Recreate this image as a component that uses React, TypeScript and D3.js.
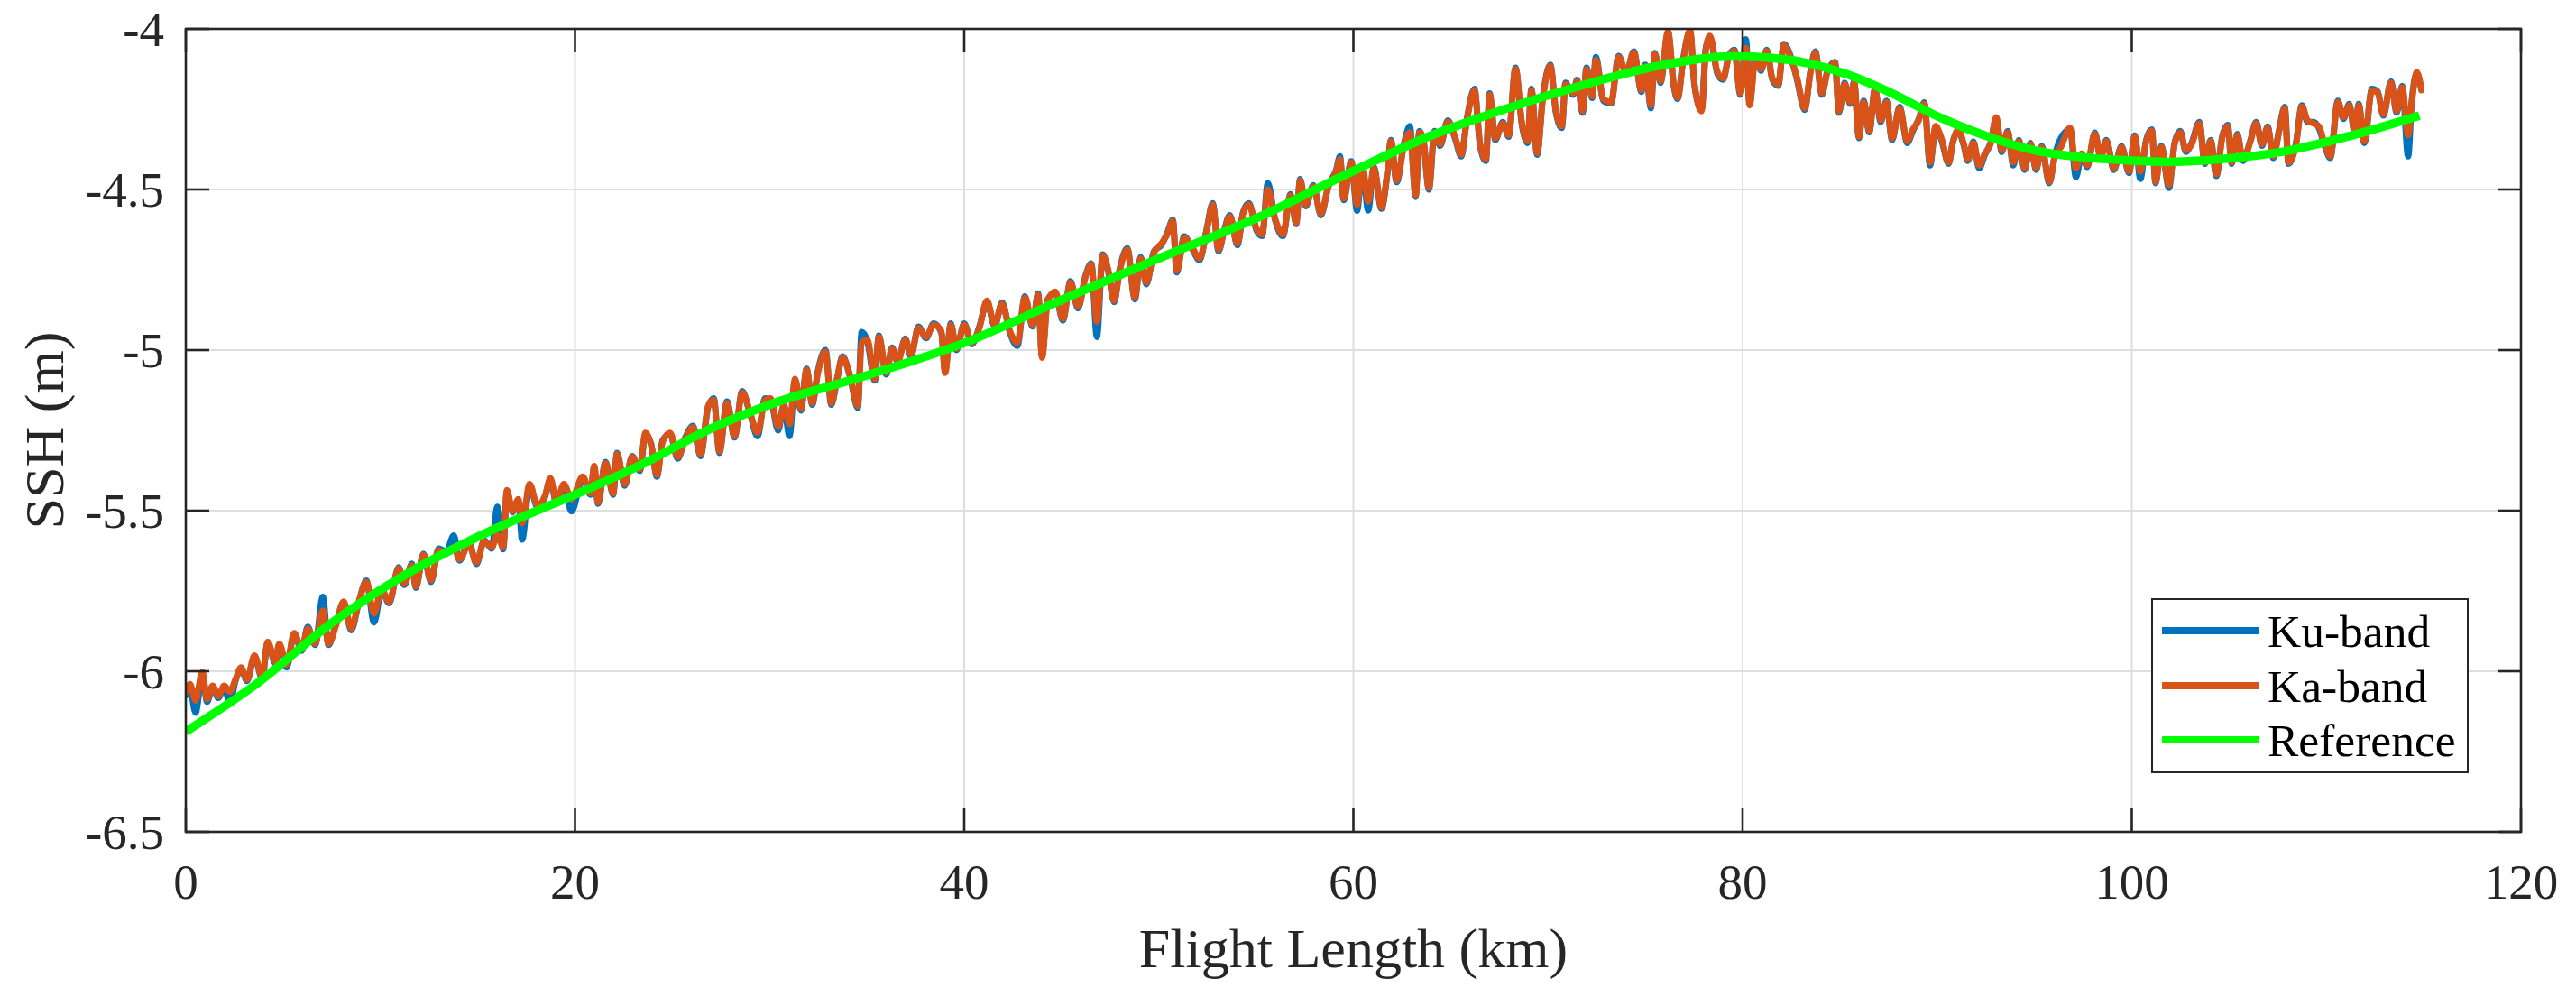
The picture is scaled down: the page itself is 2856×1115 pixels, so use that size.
import React from 'react';
import * as d3 from 'd3';

// Flight length (km) sample positions for the Ku/Ka series
const distanceKm = [
  0.01, 0.21, 0.50, 0.85, 1.09, 1.38, 1.67, 1.97, 2.26, 2.55, 2.84, 3.14, 3.53, 3.92, 4.21, 4.60, 4.80, 5.18, 5.57, 5.96,
  6.26, 6.65, 7.04, 7.33, 7.72, 8.11, 8.50, 8.89, 9.28, 9.67, 10.06, 10.45, 10.94, 11.23, 11.62, 11.82, 12.21, 12.60, 12.99, 13.38,
  13.77, 14.06, 14.55, 14.94, 15.33, 15.72, 16.01, 16.31, 16.50, 16.79, 17.09, 17.28, 17.67, 18.06, 18.45, 18.74, 19.04, 19.43, 19.82, 20.40,
  20.79, 20.99, 21.18, 21.57, 21.96, 22.16, 22.55, 22.94, 23.33, 23.62, 23.91, 24.21, 24.50, 24.89, 25.28, 25.67, 26.06, 26.45, 26.84, 27.13,
  27.42, 27.81, 28.20, 28.59, 28.99, 29.38, 29.77,
  30.05, 30.44, 30.73, 31.02, 31.31, 31.61, 31.90, 32.19, 32.48, 32.87, 33.17, 33.46, 33.75, 34.14, 34.53, 34.73, 35.02, 35.41, 35.61, 36.00,
  36.29, 36.58, 36.97, 37.26, 37.65, 38.04, 38.43, 38.82, 39.02, 39.31, 39.60, 40.00, 40.39, 40.78, 41.17, 41.56, 41.95, 42.34, 42.73, 43.12,
  43.51, 43.80, 44.00, 44.29, 44.68, 45.07, 45.46, 45.85, 46.24, 46.53, 46.82, 47.12, 47.41, 47.70, 47.99, 48.38, 48.77, 49.07, 49.36, 49.75,
  50.14, 50.43, 50.72, 50.92, 51.31, 51.70, 52.09, 52.48, 52.77, 53.07, 53.36, 53.65, 54.04, 54.33, 54.63, 55.02, 55.31, 55.60, 55.99, 56.38,
  56.77, 57.06, 57.26, 57.55, 57.94, 58.33, 58.72, 59.11, 59.31, 59.50, 59.89, 60.19,
  60.46, 60.76, 61.05, 61.44, 61.73, 61.93, 62.22, 62.61, 62.90, 63.20, 63.39, 63.59, 63.88, 64.17, 64.46, 64.85, 65.25, 65.54, 65.83, 66.22,
  66.51, 66.81, 67.00, 67.29, 67.68, 67.98, 68.33, 68.66, 68.95, 69.15, 69.44, 69.73, 70.12, 70.41, 70.71, 70.90, 71.29, 71.49, 71.78, 71.98,
  72.27, 72.46, 72.85, 73.24, 73.63, 74.02, 74.41, 74.80, 75.00, 75.29, 75.49, 75.78, 76.17, 76.46, 76.66, 76.95, 77.30, 77.53, 77.89, 78.12,
  78.32, 78.71, 79.00, 79.29, 79.58, 79.88, 80.17, 80.36, 80.66, 80.95, 81.24, 81.53, 81.83, 82.12, 82.51, 82.80, 83.19, 83.49, 83.74, 84.07,
  84.36, 84.75, 84.95, 85.24, 85.53, 85.73, 85.98, 86.22, 86.51, 86.80, 87.10, 87.39, 87.68, 88.07, 88.46, 88.75, 89.05, 89.34, 89.63, 89.92,
  90.22,
  90.59, 90.79, 91.08, 91.37, 91.57, 91.86, 92.15, 92.45, 92.74, 93.03, 93.32, 93.62, 93.91, 94.20, 94.49, 94.79, 95.08, 95.37, 95.76, 96.05,
  96.35, 96.83, 97.13, 97.42, 97.71, 98.10, 98.40, 98.69, 99.08, 99.47, 99.86, 100.15, 100.44, 100.74, 101.03, 101.22, 101.52, 101.91, 102.20, 102.49,
  102.78, 103.08, 103.47, 103.76, 104.05, 104.35, 104.64, 104.93, 105.13, 105.42, 105.71, 106.10, 106.39, 106.69, 106.98, 107.27, 107.56, 107.86, 108.05, 108.44,
  108.74, 109.03, 109.32, 109.61, 109.91, 110.20, 110.59, 110.88, 111.17, 111.47, 111.66, 111.95, 112.34, 112.64, 112.93, 113.32, 113.61, 113.90, 114.20, 114.39,
  114.65, 114.88,
];

// Ku-band SSH (m)
const kuBand = [
  -6.075, -6.052, -6.129, -6.006, -6.095, -6.050, -6.083, -6.048, -6.100, -6.030, -5.992, -6.030, -5.955, -6.022, -5.912, -5.975, -5.918, -5.988, -5.884, -5.936,
  -5.862, -5.918, -5.768, -5.918, -5.852, -5.786, -5.872, -5.786, -5.718, -5.848, -5.748, -5.788, -5.676, -5.731, -5.665, -5.740, -5.634, -5.722, -5.618, -5.628,
  -5.577, -5.655, -5.600, -5.666, -5.592, -5.618, -5.488, -5.620, -5.442, -5.505, -5.468, -5.590, -5.420, -5.488, -5.458, -5.404, -5.478, -5.422, -5.502, -5.398,
  -5.450, -5.365, -5.478, -5.348, -5.450, -5.320, -5.422, -5.330, -5.376, -5.262, -5.292, -5.394, -5.282, -5.262, -5.338, -5.272, -5.236, -5.330, -5.178, -5.150,
  -5.320, -5.160, -5.272, -5.128, -5.197, -5.268, -5.150,
  -5.155, -5.250, -5.170, -5.268, -5.094, -5.188, -5.058, -5.170, -5.066, -5.000, -5.170, -5.094, -5.020, -5.085, -5.180, -4.944, -4.972, -5.095, -4.955, -5.076,
  -4.992, -5.038, -4.964, -5.020, -4.927, -4.963, -4.917, -4.945, -5.066, -4.917, -5.000, -4.917, -4.982, -4.927, -4.850, -4.926, -4.852, -4.944, -4.987, -4.833,
  -4.926, -4.824, -5.020, -4.842, -4.822, -4.908, -4.786, -4.870, -4.767, -4.730, -4.959, -4.702, -4.758, -4.850, -4.749, -4.683, -4.842, -4.711, -4.795, -4.693,
  -4.672, -4.636, -4.594, -4.758, -4.646, -4.683, -4.720, -4.618, -4.543, -4.692, -4.627, -4.580, -4.673, -4.571, -4.543, -4.627, -4.645, -4.481, -4.598, -4.645,
  -4.515, -4.608, -4.468, -4.552, -4.487, -4.580, -4.487, -4.440, -4.397, -4.533, -4.412, -4.566,
  -4.430, -4.565, -4.430, -4.560, -4.458, -4.346, -4.477, -4.355, -4.303, -4.523, -4.318, -4.346, -4.500, -4.318, -4.364, -4.285, -4.346, -4.397, -4.281, -4.187,
  -4.364, -4.411, -4.201, -4.346, -4.290, -4.336, -4.121, -4.299, -4.355, -4.187, -4.392, -4.215, -4.112, -4.261, -4.308, -4.168, -4.205, -4.159, -4.261, -4.121,
  -4.215, -4.088, -4.224, -4.232, -4.084, -4.140, -4.070, -4.196, -4.112, -4.247, -4.075, -4.168, -4.012, -4.177, -4.218, -4.093, -4.008, -4.177, -4.250, -4.056,
  -4.026, -4.140, -4.158, -4.084, -4.065, -4.205, -4.032, -4.233, -4.084, -4.130, -4.065, -4.158, -4.177, -4.047, -4.093, -4.158, -4.252, -4.131, -4.070, -4.205,
  -4.131, -4.103, -4.261, -4.168, -4.233, -4.164, -4.340, -4.224, -4.322, -4.187, -4.290, -4.224, -4.346, -4.243, -4.355, -4.318, -4.281, -4.229, -4.425, -4.308,
  -4.346,
  -4.420, -4.355, -4.318, -4.364, -4.411, -4.351, -4.434, -4.392, -4.355, -4.280, -4.383, -4.318, -4.425, -4.346, -4.439, -4.355, -4.439, -4.365, -4.480, -4.393,
  -4.341, -4.313, -4.462, -4.392, -4.430, -4.323, -4.402, -4.346, -4.439, -4.365, -4.449, -4.332, -4.467, -4.346, -4.313, -4.480, -4.365, -4.495, -4.355, -4.318,
  -4.383, -4.355, -4.290, -4.420, -4.346, -4.458, -4.337, -4.299, -4.420, -4.327, -4.411, -4.346, -4.290, -4.364, -4.304, -4.402, -4.318, -4.243, -4.420, -4.355,
  -4.238, -4.290, -4.290, -4.308, -4.364, -4.402, -4.224, -4.280, -4.234, -4.327, -4.234, -4.355, -4.187, -4.196, -4.270, -4.164, -4.261, -4.178, -4.397, -4.224,
  -4.140, -4.187,
];

// Ka-band SSH (m)
const kaBand = [
  -6.064, -6.040, -6.091, -6.002, -6.087, -6.045, -6.077, -6.045, -6.064, -6.026, -5.988, -6.026, -5.951, -6.017, -5.909, -5.970, -5.914, -5.979, -5.881, -5.932,
  -5.867, -5.914, -5.811, -5.914, -5.857, -5.783, -5.867, -5.783, -5.722, -5.820, -5.745, -5.783, -5.680, -5.726, -5.670, -5.736, -5.637, -5.717, -5.623, -5.633,
  -5.614, -5.651, -5.605, -5.661, -5.595, -5.614, -5.577, -5.614, -5.436, -5.502, -5.464, -5.539, -5.417, -5.483, -5.455, -5.399, -5.474, -5.417, -5.464, -5.394,
  -5.446, -5.361, -5.474, -5.352, -5.446, -5.324, -5.417, -5.333, -5.371, -5.258, -5.296, -5.389, -5.286, -5.258, -5.333, -5.277, -5.240, -5.324, -5.174, -5.155,
  -5.315, -5.165, -5.268, -5.132, -5.193, -5.258, -5.155,
  -5.150, -5.239, -5.174, -5.230, -5.090, -5.183, -5.062, -5.165, -5.071, -5.005, -5.165, -5.090, -5.024, -5.080, -5.174, -4.977, -4.968, -5.090, -4.959, -5.071,
  -4.996, -5.034, -4.968, -5.015, -4.931, -4.959, -4.921, -4.940, -5.071, -4.921, -4.996, -4.921, -4.977, -4.931, -4.846, -4.921, -4.856, -4.940, -4.977, -4.837,
  -4.921, -4.828, -5.024, -4.846, -4.818, -4.903, -4.790, -4.865, -4.771, -4.734, -4.912, -4.706, -4.753, -4.846, -4.753, -4.687, -4.837, -4.715, -4.790, -4.697,
  -4.668, -4.640, -4.598, -4.753, -4.650, -4.678, -4.715, -4.622, -4.547, -4.687, -4.631, -4.584, -4.668, -4.575, -4.547, -4.622, -4.640, -4.500, -4.594, -4.640,
  -4.519, -4.603, -4.472, -4.547, -4.491, -4.575, -4.491, -4.444, -4.406, -4.528, -4.416, -4.547,
  -4.425, -4.537, -4.434, -4.556, -4.453, -4.350, -4.472, -4.359, -4.322, -4.519, -4.322, -4.341, -4.495, -4.322, -4.359, -4.289, -4.341, -4.392, -4.285, -4.191,
  -4.359, -4.406, -4.205, -4.341, -4.294, -4.331, -4.125, -4.294, -4.350, -4.191, -4.387, -4.219, -4.116, -4.256, -4.303, -4.172, -4.200, -4.163, -4.256, -4.125,
  -4.210, -4.097, -4.219, -4.228, -4.088, -4.135, -4.074, -4.191, -4.116, -4.238, -4.079, -4.163, -4.008, -4.172, -4.214, -4.097, -4.004, -4.172, -4.256, -4.060,
  -4.022, -4.135, -4.154, -4.088, -4.069, -4.200, -4.060, -4.238, -4.088, -4.125, -4.069, -4.154, -4.172, -4.051, -4.097, -4.154, -4.247, -4.135, -4.074, -4.200,
  -4.135, -4.107, -4.256, -4.172, -4.228, -4.168, -4.336, -4.228, -4.317, -4.191, -4.285, -4.228, -4.341, -4.247, -4.350, -4.313, -4.285, -4.233, -4.416, -4.303,
  -4.341,
  -4.416, -4.359, -4.313, -4.359, -4.406, -4.355, -4.425, -4.388, -4.359, -4.275, -4.378, -4.322, -4.416, -4.350, -4.434, -4.359, -4.434, -4.369, -4.476, -4.397,
  -4.369, -4.308, -4.434, -4.388, -4.425, -4.327, -4.397, -4.350, -4.434, -4.369, -4.444, -4.336, -4.444, -4.350, -4.317, -4.476, -4.369, -4.486, -4.359, -4.322,
  -4.378, -4.359, -4.294, -4.416, -4.350, -4.453, -4.341, -4.303, -4.416, -4.331, -4.406, -4.350, -4.294, -4.359, -4.308, -4.397, -4.322, -4.247, -4.416, -4.359,
  -4.242, -4.285, -4.294, -4.303, -4.359, -4.397, -4.228, -4.275, -4.238, -4.322, -4.238, -4.350, -4.191, -4.200, -4.266, -4.168, -4.256, -4.182, -4.331, -4.228,
  -4.135, -4.191,
];

// Reference SSH curve (m)
const refDistanceKm = [0, 3.62, 7.53, 11.43, 15.33, 20, 23.1, 27, 30, 34.92, 40, 45.45, 50.14, 55.22, 60, 63.88, 67.78, 71.68, 75.58, 79.5, 81.4, 83.37, 85.3, 87.3, 90.3, 92.64, 95, 97.9, 100, 101.8, 105.7, 107.7, 109.6, 111.6, 114.78];
const refSSH = [-6.188, -6.04, -5.848, -5.694, -5.572, -5.45, -5.366, -5.244, -5.17, -5.08, -4.978, -4.832, -4.711, -4.584, -4.442, -4.335, -4.25, -4.177, -4.116, -4.086, -4.09, -4.107, -4.14, -4.19, -4.28, -4.336, -4.378, -4.402, -4.41, -4.414, -4.399, -4.383, -4.358, -4.327, -4.27];

const xTicks = [0, 20, 40, 60, 80, 100, 120];
const yTicks = [-6.5, -6, -5.5, -5, -4.5, -4];
const seriesNames = ['Ku-band', 'Ka-band', 'Reference'];
const seriesColors = ['#0072BD', '#D95319', '#00FF00'];

const FONT = "'Liberation Serif', 'Times New Roman', serif";
const AXIS = '#262626';

export default function App() {
  const W = 2856;
  const H = 1115;
  const left = 206, right = 2795, top = 32, bottom = 922;
  const x = d3.scaleLinear().domain([0, 120]).range([left, right]);
  const y = d3.scaleLinear().domain([-6.5, -4]).range([bottom, top]);
  const tickLen = 26;

  const n = Math.min(distanceKm.length, kuBand.length, kaBand.length);
  const idx = d3.range(n);
  const kuPath = d3.line<number>().x(i => x(distanceKm[i])).y(i => y(kuBand[i])).curve(d3.curveMonotoneX)(idx) || '';
  const kaPath = d3.line<number>().x(i => x(distanceKm[i])).y(i => y(kaBand[i])).curve(d3.curveMonotoneX)(idx) || '';
  const rn = Math.min(refDistanceKm.length, refSSH.length);
  const refPath = d3.line<number>().x(i => x(refDistanceKm[i])).y(i => y(refSSH[i])).curve(d3.curveMonotoneX)(d3.range(rn)) || '';

  const legend = { x: 2386, y: 664, w: 350, h: 192 };
  const legendRows = [699, 760, 820];
  const seriesWidths = [7, 7, 9.5];

  return (
    <svg width={W} height={H} style={{ position: 'absolute', left: 0, top: 0, background: '#fff' }} xmlns="http://www.w3.org/2000/svg">
      <rect x={0} y={0} width={W} height={H} fill="#fff" />
      <defs>
        <clipPath id="plotClip">
          <rect x={left} y={top} width={right - left} height={bottom - top} />
        </clipPath>
      </defs>
      {/* grid */}
      <g stroke="#dedede" strokeWidth={2}>
        {xTicks.slice(1, -1).map(t => (
          <line key={'gx' + t} x1={x(t)} x2={x(t)} y1={top} y2={bottom} />
        ))}
        {yTicks.slice(1, -1).map(t => (
          <line key={'gy' + t} x1={left} x2={right} y1={y(t)} y2={y(t)} />
        ))}
      </g>
      {/* data */}
      <g clipPath="url(#plotClip)" fill="none" strokeLinejoin="round" strokeLinecap="round">
        <path d={kuPath} stroke={seriesColors[0]} strokeWidth={seriesWidths[0]} />
        <path d={kaPath} stroke={seriesColors[1]} strokeWidth={seriesWidths[1]} />
        <path d={refPath} stroke={seriesColors[2]} strokeWidth={seriesWidths[2]} strokeLinecap="butt" />
      </g>
      {/* axes box and ticks */}
      <g stroke={AXIS} strokeWidth={2.6} fill="none">
        <rect x={left} y={top} width={right - left} height={bottom - top} />
        {xTicks.map(t => (
          <g key={'tx' + t}>
            <line x1={x(t)} x2={x(t)} y1={bottom} y2={bottom - tickLen} />
            <line x1={x(t)} x2={x(t)} y1={top} y2={top + tickLen} />
          </g>
        ))}
        {yTicks.map(t => (
          <g key={'ty' + t}>
            <line x1={left} x2={left + tickLen} y1={y(t)} y2={y(t)} />
            <line x1={right} x2={right - tickLen} y1={y(t)} y2={y(t)} />
          </g>
        ))}
      </g>
      {/* tick labels */}
      <g fontFamily={FONT} fontSize={55} fill={AXIS}>
        {xTicks.map(t => (
          <text key={'lx' + t} x={x(t)} y={996} textAnchor="middle">{String(t)}</text>
        ))}
        {yTicks.map(t => (
          <text key={'ly' + t} x={182} y={y(t)} dy="0.34em" textAnchor="end">{String(t)}</text>
        ))}
      </g>
      {/* axis labels */}
      <text x={(left + right) / 2} y={1072} textAnchor="middle" fontFamily={FONT} fontSize={62} fill={AXIS}>Flight Length (km)</text>
      <text transform={`translate(70, ${(top + bottom) / 2}) rotate(-90)`} textAnchor="middle" fontFamily={FONT} fontSize={62} fill={AXIS}>SSH (m)</text>
      {/* legend */}
      <g>
        <rect x={legend.x} y={legend.y} width={legend.w} height={legend.h} fill="#fff" stroke={AXIS} strokeWidth={2} />
        {seriesNames.map((name, i) => (
          <g key={name}>
            <line x1={2397} x2={2505} y1={legendRows[i]} y2={legendRows[i]} stroke={seriesColors[i]} strokeWidth={8} />
            <text x={2514} y={legendRows[i]} dy="0.34em" fontFamily={FONT} fontSize={51.5} fill="#000">{name}</text>
          </g>
        ))}
      </g>
    </svg>
  );
}
